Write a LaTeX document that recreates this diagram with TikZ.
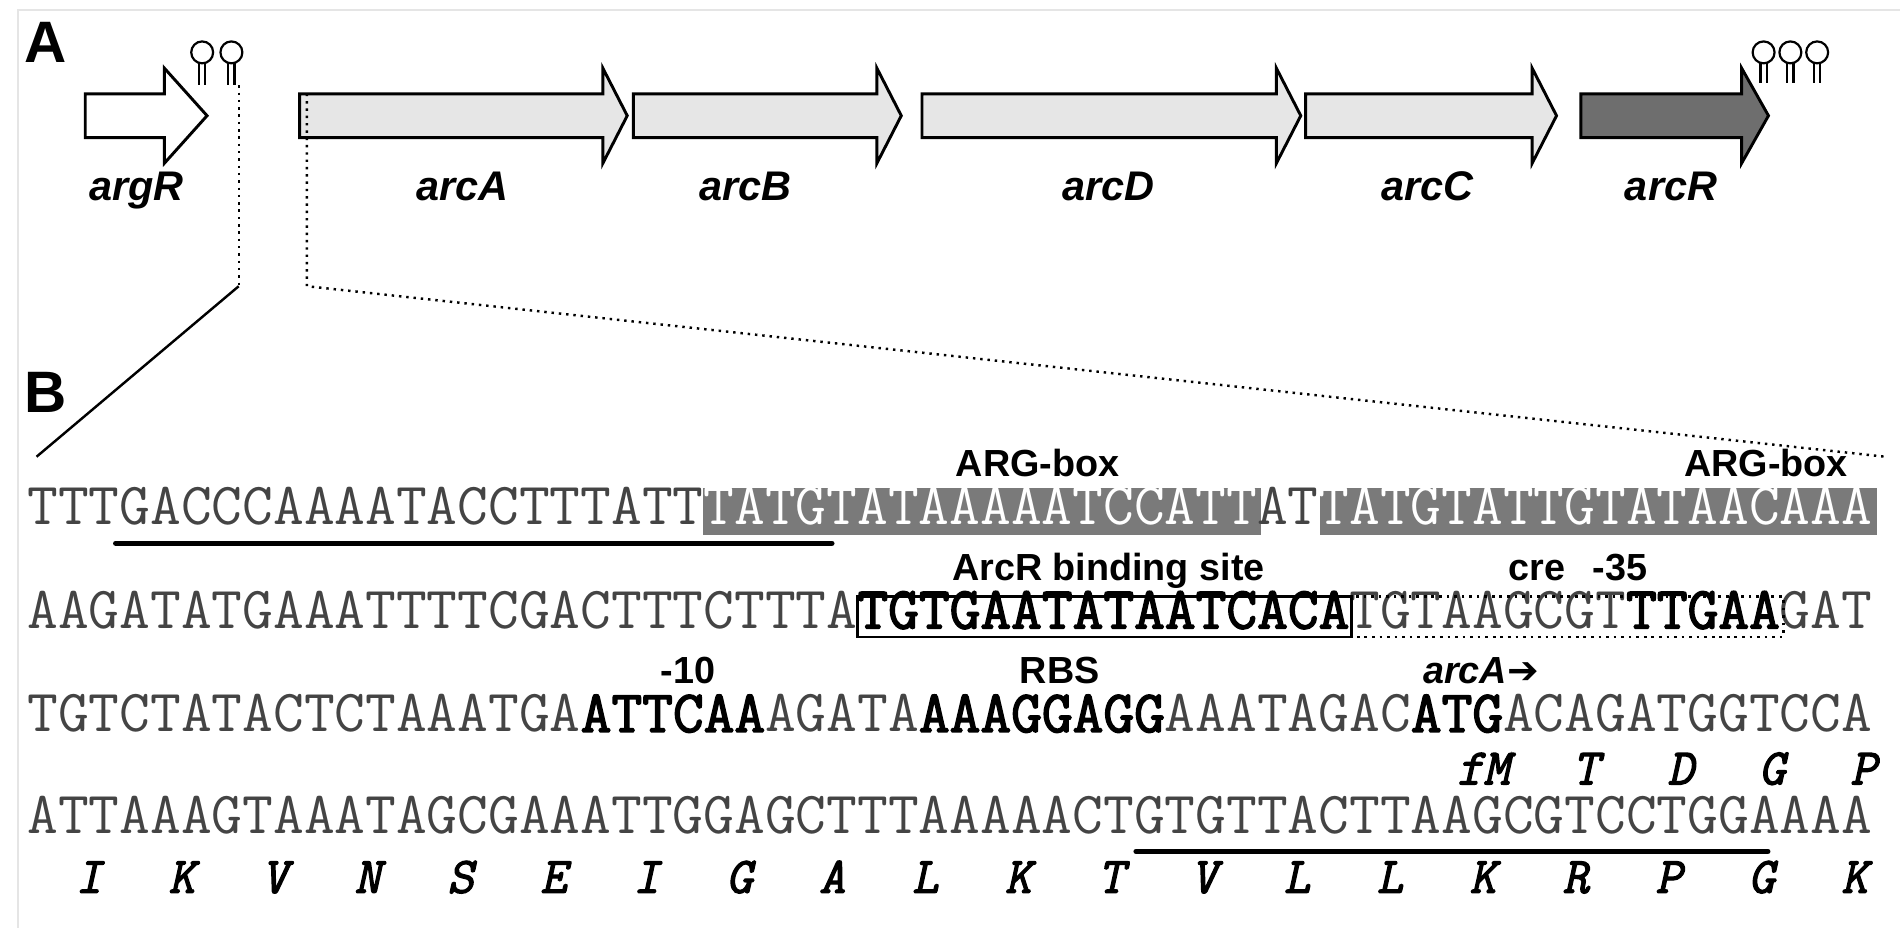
\documentclass[tikz,border=0pt]{standalone}
\usepackage{fontspec}
\setmainfont{Liberation Sans}
\newfontfamily\seqf{Latin Modern Mono}
\newfontfamily\seqb[FakeBold=2.5]{Latin Modern Mono}
\newfontfamily\seqbi[FakeBold=2.5,FakeSlant=0.22]{Latin Modern Mono}
\definecolor{seqgray}{HTML}{444444}
\definecolor{boxgray}{HTML}{7A7A7A}
\definecolor{genelight}{HTML}{E6E6E6}
\definecolor{genedark}{HTML}{6E6E6E}
\newcommand\bs[1]{{\seqb\color{black}#1}}
\def\cw{25.3}
\tikzset{
 genestyle/.style={draw=black,line width=1.2pt},
 genelab/.style={font=\fontsize{17}{17}\selectfont\bfseries\itshape,anchor=base,inner sep=0},
 lab/.style={font=\fontsize{15.5}{16}\selectfont\bfseries,anchor=base,inner sep=0},
 seqrow/.style={font=\seqf\fontsize{24.51}{25}\selectfont,text=seqgray,anchor=base west,inner sep=0},
 aa/.style={font=\seqbi\fontsize{21}{22}\selectfont,anchor=base,inner sep=0},
 panel/.style={font=\fontsize{24}{24}\selectfont\bfseries,anchor=north west,inner sep=0},
 term/.style={draw=black,line width=0.9pt,fill=white}
}
\newcommand\genearrow[4]{\draw[genestyle,fill=#4] (#1,77)--(#2,77)--(#2,56)--(#3,95)--(#2,134)--(#2,113)--(#1,113)--cycle;}
\newcommand\terminator[2]{\draw[line width=0.9pt] (#1-2.5,52)--(#1-2.5,#2) (#1+2.5,52)--(#1+2.5,#2); \draw[term] (#1,43) circle (9);}
\begin{document}
\begin{tikzpicture}[x=0.5pt,y=-0.5pt]
\useasboundingbox (0,0) rectangle (1560,762);
\draw[gray!20,line width=1pt] (15,762)--(15,8)--(1560,8);
\node[panel] (pA) at (20,18) {A};
\node[panel] (pB) at (20,305) {B};
% genes
\genearrow{70}{135}{170}{white}
\genearrow{246}{495}{515}{genelight}
\genearrow{520}{720}{740}{genelight}
\genearrow{757}{1048}{1068}{genelight}
\genearrow{1072}{1258}{1278}{genelight}
\genearrow{1298}{1430}{1452}{genedark}
\terminator{166}{70}\terminator{190}{70}
\terminator{1448}{68}\terminator{1470}{68}\terminator{1492}{68}
\node[genelab] (gargR) at (112,165) {argR};
\node[genelab] (garcA) at (380,165) {arcA};
\node[genelab] (garcB) at (612,165) {arcB};
\node[genelab] (garcD) at (910,165) {arcD};
\node[genelab] (garcC) at (1172,165) {arcC};
\node[genelab] (garcR) at (1372,165) {arcR};
% zoom lines
\coordinate (z1) at (196,70); \coordinate (z1b) at (196,235); \coordinate (z1c) at (30,375);
\coordinate (z2) at (252,77); \coordinate (z2b) at (252,235); \coordinate (z2c) at (1548,375);
\draw[dotted,line width=1pt] (z1)--(z1b);
\draw[line width=1pt] (z1b)--(z1c);
\draw[dotted,line width=1pt] (z2)--(z2b)--(z2c);
% row 1
\fill[boxgray] ({21+22*\cw},401) rectangle ({23+40*\cw},439);
\fill[boxgray] ({21+42*\cw},401) rectangle ({23+60*\cw},439);
\node[seqrow] (r1) at (22,431) {TTTGACCCAAAATACCTTTATT{\color{white}TATGTATAAAAATCCATT}AT{\color{white}TATGTATTGTATAACAAA}};
\draw[line width=2.2pt,line cap=round] (95,446)--(683,446);
\node[lab] (lb1) at (852,391) {ARG-box};
\node[lab] (lb2) at (1450,391) {ARG-box};
% row 2
\node[seqrow] (r2) at (22,516) {AAGATATGAAATTTTCGACTTTCTTTA\bs{TGTGAATATAATCACA}TGTAAGCGT\bs{TTGAA}GAT};
\draw[line width=1.1pt] ({21+27*\cw},490) rectangle ({22+43*\cw},523);
\draw[line width=1.1pt,dotted] ({22+43*\cw},490) rectangle ({22+57*\cw},523);
\node[lab] (lb3) at (910,477) {ArcR binding site};
\node[lab] (lb4) at (1262,477) {cre};
\node[lab] (lb5) at (1330,477) {-35};
% row 3
\node[seqrow] (r3) at (22,601) {TGTCTATACTCTAAATGA\bs{ATTCAA}AGATA\bs{AAAGGAGG}AAATAGAC\bs{ATG}ACAGATGGTCCA};
\node[lab] (lb6) at (565,561) {-10};
\node[lab] (lb7) at (870,561) {RBS};
\node[lab,anchor=base west] (lb8) at (1168,561) {\itshape arcA{\upshape\fontspec{DejaVu Sans}\bfseries ➔}};
% aa above row 4
\node[aa] (m1) at (1218,644) {fM};
\node[aa] (m2) at (1302,644) {T};
\node[aa] (m3) at (1380,644) {D};
\node[aa] (m4) at (1455,644) {G};
\node[aa] (m5) at (1530,644) {P};
% row 4
\node[seqrow] (r4) at (22,684) {ATTAAAGTAAATAGCGAAATTGGAGCTTTAAAAACTGTGTTACTTAAGCGTCCTGGAAAA};
\draw[line width=2.2pt,line cap=round] ({22+36*\cw},699)--({22+56.5*\cw},699);
\foreach \a [count=\k from 0] in {I,K,V,N,S,E,I,G,A,L,K,T,V,L,L,K,R,P,G,K}
  \node[aa] (aa\k) at ({73+76.3*\k},733) {\a};
\end{tikzpicture}
\end{document}
